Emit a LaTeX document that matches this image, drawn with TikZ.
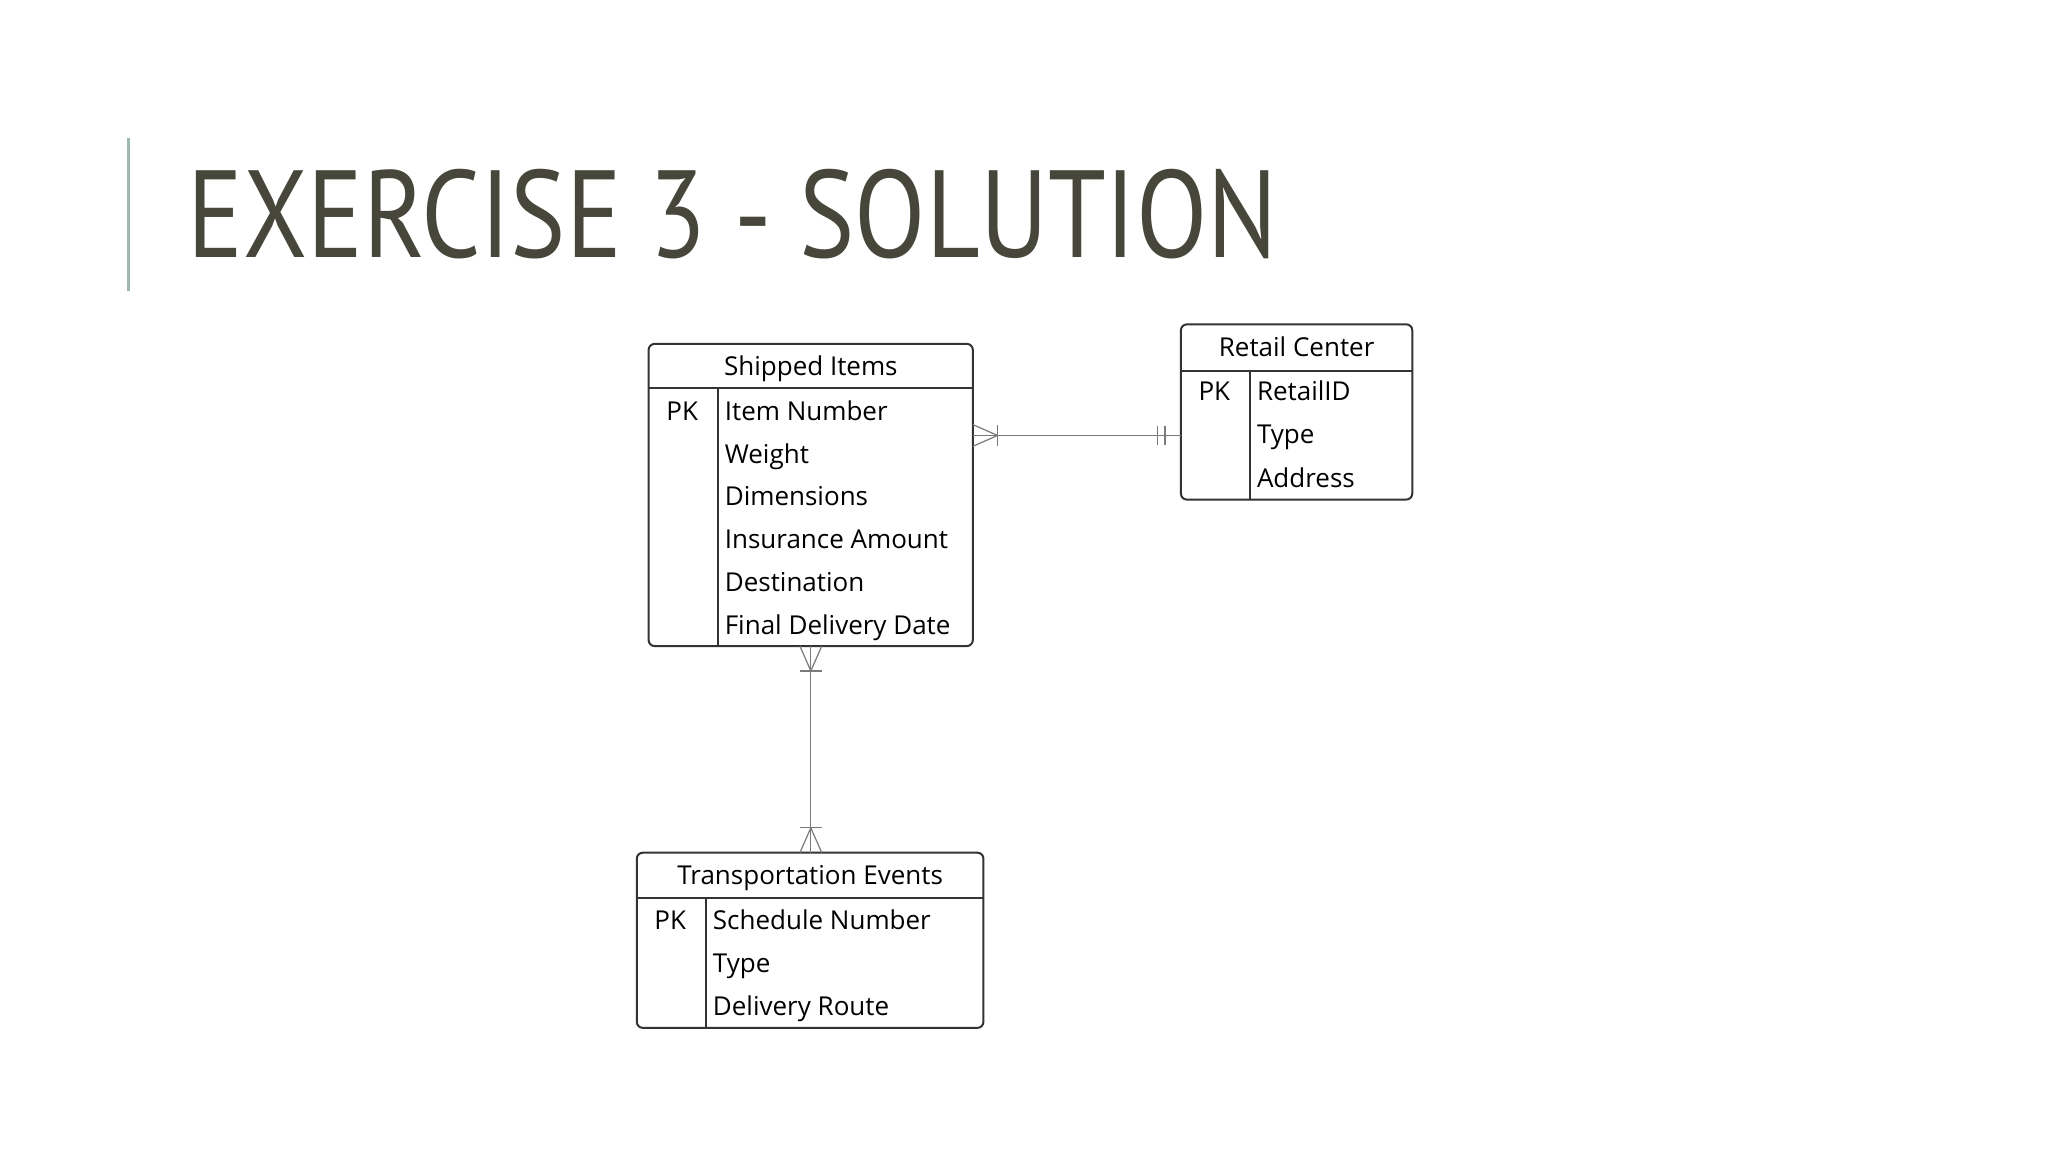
\documentclass[tikz,border=0pt]{standalone}
\usepackage{fontspec}
\usetikzlibrary{calc}
\setmainfont{Open Sans}
\newfontfamily\titlefont{PT Sans}
\definecolor{titlec}{HTML}{46463A}
\definecolor{barc}{HTML}{9DB8AD}
\definecolor{linec}{HTML}{333333}
\definecolor{connc}{HTML}{7A7A7A}
\begin{document}
\begin{tikzpicture}[x=0.4955pt,y=-0.4955pt,
  ent/.style={draw=linec,line width=1pt,rounded corners=3pt,inner sep=0,outer sep=0,anchor=north west},
  sep/.style={draw=linec,line width=1pt},
  txt/.style={font=\fontsize{13}{15}\selectfont,anchor=base west,inner sep=0,text=black},
  hdr/.style={font=\fontsize{13}{15}\selectfont,anchor=base,inner sep=0,text=black},
  conn/.style={draw=connc,line width=0.6pt}]
\useasboundingbox (0pt,0pt) rectangle (1024pt,-576pt);
\fill[white] (0pt,0pt) rectangle (1024pt,-576pt);
\draw[barc,line width=1.5pt] (130,139) -- (130,294);
\node[anchor=west,inner sep=0,text=titlec,font=\titlefont\fontsize{62}{70}\selectfont,xscale=0.84] (title) at (189,216) {EXERCISE 3 - SOLUTION};
% Shipped Items
\node[ent,minimum width=162.1pt,minimum height=151.1pt] (si) at (654.5,347) {};
\draw[sep] (654.5,392) -- (981.8,392);
\draw[sep] (724.5,392) -- (724.5,652);
\node[hdr] (sih) at (818.2,379) {Shipped Items};
\node[txt] (sipk) at (672,424) {PK};
\node[txt] (si1) at (731,424) {Item Number};
\node[txt] (si2) at (731,467.5) {Weight};
\node[txt] (si3) at (731,510.5) {Dimensions};
\node[txt] (si4) at (731,553.5) {Insurance Amount};
\node[txt] (si5) at (731,597) {Destination};
\node[txt] (si6) at (731,640.5) {Final Delivery Date};
% Retail Center
\node[ent,minimum width=115.7pt,minimum height=87.6pt] (rc) at (1191.6,327.3) {};
\draw[sep] (1191.6,374.8) -- (1425.2,374.8);
\draw[sep] (1261.5,374.8) -- (1261.5,504.1);
\node[hdr] (rch) at (1308.4,359.5) {Retail Center};
\node[txt] (rcpk) at (1209,404.5) {PK};
\node[txt] (rc1) at (1268,404.5) {RetailID};
\node[txt] (rc2) at (1268,448) {Type};
\node[txt] (rc3) at (1268,491.5) {Address};
% Transportation Events
\node[ent,minimum width=173.3pt,minimum height=87.6pt] (te) at (642.6,860.4) {};
\draw[sep] (642.6,906.6) -- (992.3,906.6);
\draw[sep] (712.6,906.6) -- (712.6,1037.2);
\node[hdr] (teh) at (817.5,892.5) {Transportation Events};
\node[txt] (tepk) at (660,937.5) {PK};
\node[txt] (te1) at (719,937.5) {Schedule Number};
\node[txt] (te2) at (719,981) {Type};
\node[txt] (te3) at (719,1024.5) {Delivery Route};
% connectors
\coordinate (a) at (si.east |- 0,439.4);
\coordinate (b) at (rc.west |- 0,439.4);
\draw[conn] (a) -- (b);
\draw[conn] ($(a)+(0,-11)$) -- ($(a)+(25,0)$) -- ($(a)+(0,11)$);
\draw[conn] ($(a)+(25,-11)$) -- ($(a)+(25,11)$);
\draw[conn] ($(b)+(-16,-10)$) -- ($(b)+(-16,10)$);
\draw[conn] ($(b)+(-24,-10)$) -- ($(b)+(-24,10)$);
\coordinate (c) at (818.2,652);
\coordinate (d) at (818.2,860.4);
\draw[conn] (c) -- (d);
\draw[conn] ($(c)+(-11,0)$) -- ($(c)+(0,25)$) -- ($(c)+(11,0)$);
\draw[conn] ($(c)+(-11,25)$) -- ($(c)+(11,25)$);
\draw[conn] ($(d)+(-11,0)$) -- ($(d)+(0,-25)$) -- ($(d)+(11,0)$);
\draw[conn] ($(d)+(-11,-25)$) -- ($(d)+(11,-25)$);
\end{tikzpicture}
\end{document}
